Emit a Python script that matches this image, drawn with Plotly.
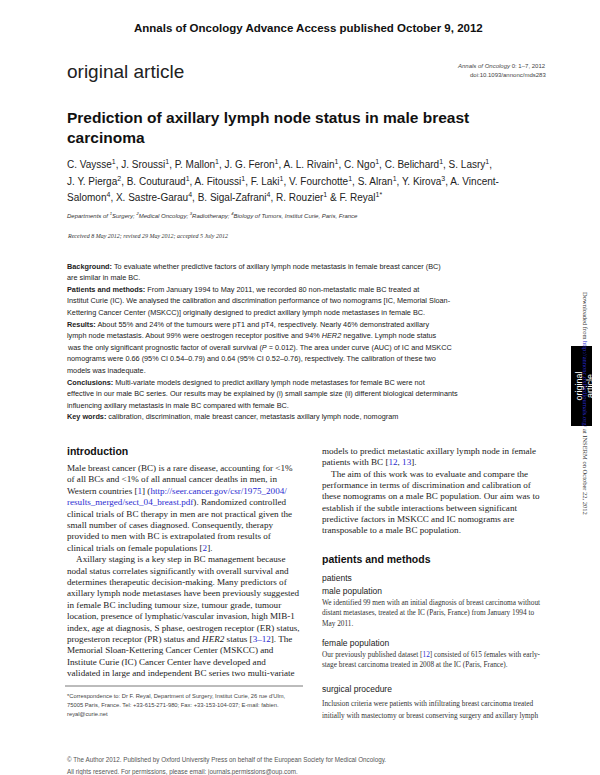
import plotly.graph_objects as go

LINK = "#2a2ad0"
def ln(t):
    return f"<span style='color:{LINK}'>{t}</span>"

IND = "&nbsp;&nbsp;&nbsp;&nbsp;"
header = "Annals of Oncology Advance Access published October 9, 2012"
section_label = "original article"
journal_info = ["<i>Annals of Oncology</i> 0: 1–7, 2012", "doi:10.1093/annonc/mds283"]
title_lines = ["Prediction of axillary lymph node status in male breast", "carcinoma"]
author_lines = [
    "C. Vaysse<sup>1</sup>, J. Sroussi<sup>1</sup>, P. Mallon<sup>1</sup>, J. G. Feron<sup>1</sup>, A. L. Rivain<sup>1</sup>, C. Ngo<sup>1</sup>, C. Belichard<sup>1</sup>, S. Lasry<sup>1</sup>,",
    "J. Y. Pierga<sup>2</sup>, B. Couturaud<sup>1</sup>, A. Fitoussi<sup>1</sup>, F. Laki<sup>1</sup>, V. Fourchotte<sup>1</sup>, S. Alran<sup>1</sup>, Y. Kirova<sup>3</sup>, A. Vincent-",
    "Salomon<sup>4</sup>, X. Sastre-Garau<sup>4</sup>, B. Sigal-Zafrani<sup>4</sup>, R. Rouzier<sup>1</sup> & F. Reyal<sup>1*</sup>",
]
departments = "<i>Departments of <sup>1</sup>Surgery; <sup>2</sup>Medical Oncology; <sup>3</sup>Radiotherapy; <sup>4</sup>Biology of Tumors, Institut Curie, Paris, France</i>"
received = "<i>Received 8 May 2012; revised 29 May 2012; accepted 5 July 2012</i>"
abstract_lines = [
    "<b>Background:</b> To evaluate whether predictive factors of axillary lymph node metastasis in female breast cancer (BC)",
    "are similar in male BC.",
    "<b>Patients and methods:</b> From January 1994 to May 2011, we recorded 80 non-metastatic male BC treated at",
    "Institut Curie (IC). We analysed the calibration and discrimination performance of two nomograms [IC, Memorial Sloan-",
    "Kettering Cancer Center (MSKCC)] originally designed to predict axillary lymph node metastases in female BC.",
    "<b>Results:</b> About 55% and 24% of the tumours were pT1 and pT4, respectively. Nearly 46% demonstrated axillary",
    "lymph node metastasis. About 99% were oestrogen receptor positive and 94% <i>HER2</i> negative. Lymph node status",
    "was the only significant prognostic factor of overall survival (<i>P</i> = 0.012). The area under curve (AUC) of IC and MSKCC",
    "nomograms were 0.66 (95% CI 0.54–0.79) and 0.64 (95% CI 0.52–0.76), respectively. The calibration of these two",
    "models was inadequate.",
    "<b>Conclusions:</b> Multi-variate models designed to predict axillary lymph node metastases for female BC were not",
    "effective in our male BC series. Our results may be explained by (i) small sample size (ii) different biological determinants",
    "influencing axillary metastasis in male BC compared with female BC.",
    "<b>Key words:</b> calibration, discrimination, male breast cancer, metastasis axillary lymph node, nomogram",
]
intro_lines = [
    "Male breast cancer (BC) is a rare disease, accounting for &lt;1%",
    "of all BCs and &lt;1% of all annual cancer deaths in men, in",
    "Western countries [" + ln("1") + "] (" + ln("http://seer.cancer.gov/csr/1975_2004/"),
    ln("results_merged/sect_04_breast.pdf") + "). Randomized controlled",
    "clinical trials of BC therapy in men are not practical given the",
    "small number of cases diagnosed. Consequently, therapy",
    "provided to men with BC is extrapolated from results of",
    "clinical trials on female populations [" + ln("2") + "].",
    IND + "Axillary staging is a key step in BC management because",
    "nodal status correlates significantly with overall survival and",
    "determines therapeutic decision-making. Many predictors of",
    "axillary lymph node metastases have been previously suggested",
    "in female BC including tumour size, tumour grade, tumour",
    "location, presence of lymphatic/vascular invasion, high MIB-1",
    "index, age at diagnosis, S phase, oestrogen receptor (ER) status,",
    "progesteron receptor (PR) status and <i>HER2</i> status [" + ln("3–12") + "]. The",
    "Memorial Sloan-Kettering Cancer Center (MSKCC) and",
    "Institute Curie (IC) Cancer Center have developed and",
    "validated in large and independent BC series two multi-variate",
]
right_lines = [
    "models to predict metastatic axillary lymph node in female",
    "patients with BC [" + ln("12") + ", " + ln("13") + "].",
    IND + "The aim of this work was to evaluate and compare the",
    "performance in terms of discrimination and calibration of",
    "these nomograms on a male BC population. Our aim was to",
    "establish if the subtle interactions between significant",
    "predictive factors in MSKCC and IC nomograms are",
    "transposable to a male BC population.",
]
male_pop_lines = [
    "We identified 99 men with an initial diagnosis of breast carcinoma without",
    "distant metastases, treated at the IC (Paris, France) from January 1994 to",
    "May 2011.",
]
female_pop_lines = [
    "Our previously published dataset [" + ln("12") + "] consisted of 615 females with early-",
    "stage breast carcinoma treated in 2008 at the IC (Paris, France).",
]
surgical_lines = [
    "Inclusion criteria were patients with infiltrating breast carcinoma treated",
    "initially with mastectomy or breast conserving surgery and axillary lymph",
]
footnote_lines = [
    "*Correspondence to: Dr F. Reyal, Department of Surgery, Institut Curie, 26 rue d'Ulm,",
    "75005 Paris, France. Tel: +33-615-271-980; Fax: +33-153-104-037; E-mail: fabien.",
    "reyal@curie.net",
]
bottom_lines = [
    "© The Author 2012. Published by Oxford University Press on behalf of the European Society for Medical Oncology.",
    "All rights reserved. For permissions, please email: journals.permissions@oup.com.",
]
side_text = "Downloaded from " + ln("http://annonc.oxfordjournals.org/") + " at INSERM on October 22, 2012"

SANS = "Liberation Sans, Arial, sans-serif"
SERIF = "Liberation Serif, Times New Roman, serif"
ann = []
def add(x, y, text, size, family=SANS, color="#111", xanchor="left", angle=0):
    ann.append(dict(x=x, y=y, xref="x", yref="y", text=text, showarrow=False,
                    xanchor=xanchor, yanchor="middle", textangle=angle,
                    font=dict(size=size, family=family, color=color)))
def block(x, y0, dy, lines, size, family=SANS, color="#111"):
    for i, t in enumerate(lines):
        add(x, y0 + i * dy, t, size, family, color)

add(300, 20, "<b>" + header + "</b>", 11.5, xanchor="center")
add(57, 63, section_label, 19, color="#222")
add(540, 58, journal_info[0], 6, xanchor="right", color="#444")
add(540, 67, journal_info[1], 6, xanchor="right", color="#444")
block(57, 109, 20, ["<b>" + t + "</b>" for t in title_lines], 15.5)
block(57, 156, 16.5, author_lines, 10, color="#222")
add(57, 207, departments, 6, color="#333")
add(57, 228, received, 6, family=SERIF, color="#333")
block(57, 258, 11.6, abstract_lines, 7.3, color="#222")
add(57, 443, "<b>introduction</b>", 10.5)
block(57, 460, 11.4, intro_lines, 9.1, family=SERIF, color="#222")
block(312, 443, 11.3, right_lines, 9.1, family=SERIF, color="#222")
add(312, 551, "<b>patients and methods</b>", 10.5)
add(312, 570, "patients", 8.5, color="#222")
add(312, 583, "male population", 8.5, color="#222")
block(312, 594, 10.8, male_pop_lines, 7.3, family=SERIF, color="#333")
add(312, 635, "female population", 8.5, color="#222")
block(312, 646, 10.8, female_pop_lines, 7.3, family=SERIF, color="#333")
add(312, 681, "surgical procedure", 8.5, color="#222")
block(312, 695, 12, surgical_lines, 7.3, family=SERIF, color="#333")
block(57, 688, 9.2, footnote_lines, 5.8, color="#444")
block(57, 752, 12, bottom_lines, 6.3, color="#555")
add(578, 395, side_text, 6.5, family=SERIF, color="#333", xanchor="center", angle=90)
ann.append(dict(x=576.5, y=378, xref="x", yref="y", text="original<br>article", showarrow=False,
                xanchor="center", yanchor="middle", textangle=-90,
                font=dict(size=9, family=SANS, color="white")))

fig = go.Figure()
fig.update_layout(
    width=600, height=775, margin=dict(l=0, r=0, t=0, b=0),
    paper_bgcolor="white", plot_bgcolor="white",
    xaxis=dict(range=[0, 600], visible=False, fixedrange=True),
    yaxis=dict(range=[775, 0], visible=False, fixedrange=True),
    annotations=ann,
    shapes=[
        dict(type="rect", x0=563, x1=591, y0=338, y1=418, xref="x", yref="y",
             fillcolor="black", line=dict(width=0), layer="below"),
        dict(type="line", x0=57, x1=295, y0=678, y1=678, xref="x", yref="y",
             line=dict(color="#555", width=0.8)),
    ],
)
fig.write_html("out.html")
